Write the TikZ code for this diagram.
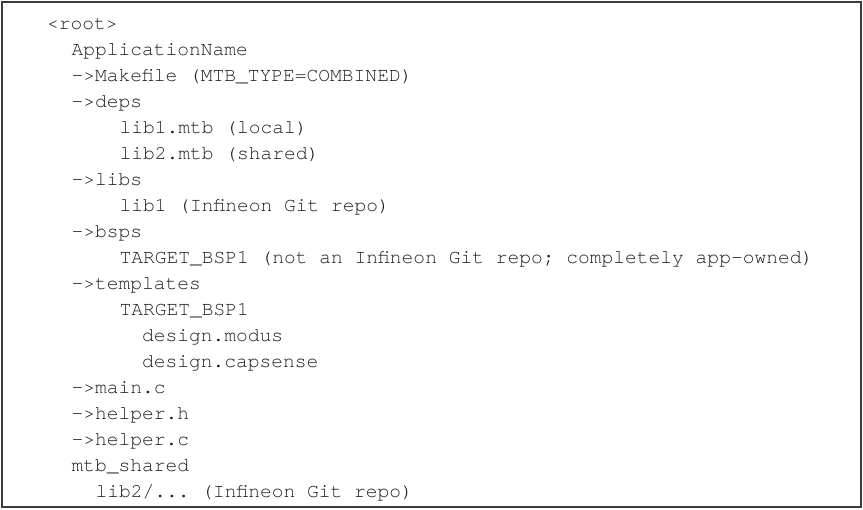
\documentclass[tikz,border=0pt]{standalone}
\usepackage{fontspec}
\setmonofont{TeX Gyre Cursor}
\definecolor{txt}{RGB}{30,30,30}
\definecolor{frame}{RGB}{60,60,60}
\begin{document}
\begin{tikzpicture}[x=1pt,y=-1pt,
  line/.style={anchor=base west,inner sep=0pt,outer sep=0pt,text=txt,font=\ttfamily\fontsize{19.6pt}{22pt}\selectfont},
  box/.style={draw=frame,line width=1.4pt}]
\useasboundingbox (0,0) rectangle (863,510);
\draw[box] (2,2) rectangle (861,507);
\def\xa{47}
\def\xb{71.5}
\def\xc{119.5}
\def\xd{142}
\def\xe{95.5}
\node[line] (l1)  at (\xa,30) {<root>};
\node[line] (l2)  at (\xb,56) {ApplicationName};
\node[line] (l3)  at (\xb,82) {->Makefile (MTB\_TYPE=COMBINED)};
\node[line] (l4)  at (\xb,108) {->deps};
\node[line] (l5)  at (\xc,134) {lib1.mtb (local)};
\node[line] (l6)  at (\xc,160) {lib2.mtb (shared)};
\node[line] (l7)  at (\xb,186) {->libs};
\node[line] (l8)  at (\xc,212) {lib1 (Infineon Git repo)};
\node[line] (l9)  at (\xb,238) {->bsps};
\node[line] (l10) at (\xc,264) {TARGET\_BSP1 (not an Infineon Git repo; completely app-owned)};
\node[line] (l11) at (\xb,290) {->templates};
\node[line] (l12) at (\xc,316) {TARGET\_BSP1};
\node[line] (l13) at (\xd,342) {design.modus};
\node[line] (l14) at (\xd,368) {design.capsense};
\node[line] (l15) at (\xb,394) {->main.c};
\node[line] (l16) at (\xb,420) {->helper.h};
\node[line] (l17) at (\xb,446) {->helper.c};
\node[line] (l18) at (\xb,472) {mtb\_shared};
\node[line] (l19) at (\xe,498) {lib2/... (Infineon Git repo)};
\end{tikzpicture}
\end{document}
